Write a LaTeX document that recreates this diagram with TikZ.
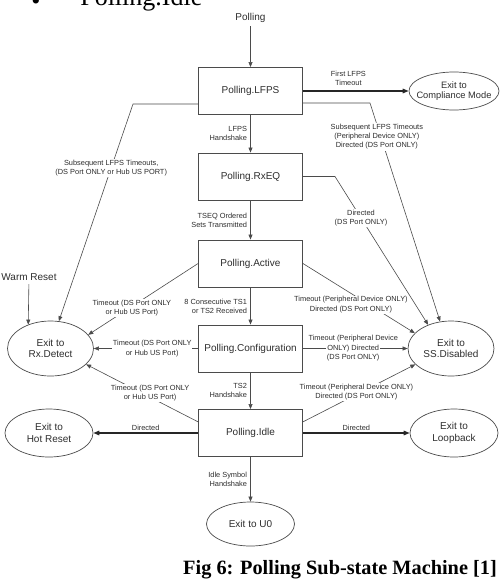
\documentclass[tikz,border=0pt]{standalone}
\usepackage{fontspec}
\setmainfont{Liberation Sans}
\newfontfamily\serifhead{Liberation Serif}
\usetikzlibrary{shapes.geometric,arrows.meta}

\definecolor{edgegray}{RGB}{75,75,75}
\definecolor{inkgray}{RGB}{45,45,45}

\tikzset{every picture/.style={line width=0.6pt}}
\tikzset{
  pollbox/.style={draw=edgegray, line width=0.9pt, minimum width=104pt, minimum height=47pt, inner sep=0pt, text=inkgray, font=\fontsize{10}{12}\selectfont},
  exitbox/.style={ellipse, draw=edgegray, line width=0.7pt, inner xsep=-25pt, inner ysep=-4pt, align=center, text=inkgray, font=\fontsize{10}{11.5}\selectfont},
  lbl/.style={inner sep=1pt, align=center, text=inkgray, font=\fontsize{7.4}{9.2}\selectfont},
  trans/.style={draw=edgegray, line width=0.6pt, -{Triangle[length=5pt,width=4pt]}},
  heavytrans/.style={draw=black!85, line width=1.4pt, -{Triangle[length=6pt,width=4.5pt]}},
}

\begin{document}
\begin{tikzpicture}[x=1pt,y=1pt,yscale=-1]
\useasboundingbox (0,0) rectangle (500,581);

% Text Node (heading line, cut by the page edge)
\node (headdot) [anchor=base west, inner sep=0pt, font=\serifhead\fontsize{26}{30}\selectfont] at (31,9) {•};
\node (headtxt) [anchor=base west, inner sep=0pt, font=\serifhead\fontsize{26}{30}\selectfont] at (80,5.5) {Polling.Idle};

%Shape: Rectangle (sub-states)
\node (lfps)   [pollbox] at (250.5,91)    {Polling.LFPS};
\node (rxeq)   [pollbox] at (250.5,176.5) {Polling.RxEQ};
\node (active) [pollbox] at (250.5,263.5) {Polling.Active};
\node (config) [pollbox] at (250.5,348.5) {Polling.Configuration};
\node (idle)   [pollbox] at (250.5,433)   {Polling.Idle};

%Shape: Ellipse (exits)
\node (compl)  [exitbox, minimum width=90pt, minimum height=38pt, font=\fontsize{9.3}{10.5}\selectfont] at (454,91) {Exit to\\Compliance Mode};
\node (rxdet)  [exitbox, minimum width=86pt, minimum height=55pt] at (50.5,348.5) {Exit to\\Rx.Detect};
\node (ssdis)  [exitbox, minimum width=86pt, minimum height=55pt] at (451,348.5)  {Exit to\\SS.Disabled};
\node (hotrst) [exitbox, minimum width=88pt, minimum height=48pt] at (49,433)     {Exit to\\Hot Reset};
\node (loopbk) [exitbox, minimum width=88pt, minimum height=48pt] at (454,433)    {Exit to\\Loopback};
\node (exitu0) [exitbox, minimum width=88pt, minimum height=44pt] at (250.5,524)  {Exit to U0};

% Text Node
\node (polling) [text=inkgray, font=\fontsize{10}{12}\selectfont] at (250.5,18) {Polling};
\node (warmrst) [text=inkgray, font=\fontsize{10}{12}\selectfont] at (29,277) {Warm Reset};
\node (figcap)  [anchor=base, inner sep=0pt, font=\serifhead\bfseries\fontsize{20.3}{24}\selectfont] at (340,574) {Fig 6: Polling Sub-state Machine [1]};

% bend points
\coordinate (lfpsbendL) at (133,104);
\coordinate (lfpsbendR) at (370,103);
\coordinate (rxeqbend)  at (335,176.5);

%Straight Lines (main sequence)
\draw [trans] (polling) -- (lfps);
\draw [trans] (lfps) -- node (lbllfps) [lbl, left, outer sep=2.5pt, align=right] {LFPS\\Handshake} (rxeq);
\draw [trans] (rxeq) -- node (lblrxeq) [lbl, left, outer sep=2.5pt, align=right] {TSEQ Ordered\\Sets Transmitted} (active);
\draw [trans] (active) -- node (lblact) [lbl, left, outer sep=2.5pt, align=right] {8 Consecutive TS1\\or TS2 Received} (config);
\draw [trans] (config) -- node (lblcfg) [lbl, left, outer sep=2.5pt, align=right] {TS2\\Handshake} (idle);
\draw [trans] (idle) -- node (lblidle) [lbl, left, outer sep=2.5pt, align=right] {Idle Symbol\\Handshake} (exitu0);

%Straight Lines (heavy exits)
\draw [heavytrans] (lfps) -- node (lblfirst) [lbl, above, outer sep=4pt, pos=0.43] {First LFPS\\Timeout} (compl);
\draw [heavytrans] (idle) -- node (lblhot) [lbl, above, outer sep=1.5pt] {Directed} (hotrst);
\draw [heavytrans] (idle) -- node (lblloop) [lbl, above, outer sep=1.5pt] {Directed} (loopbk);

%Straight Lines (to Rx.Detect)
\draw [trans] (warmrst) -- (rxdet.133);
\draw [trans] (lfps.west |- lfpsbendL) -- (lfpsbendL) -- node (lblsubL) [lbl, fill=white, pos=0.294] {Subsequent LFPS Timeouts,\\(DS Port ONLY or Hub US PORT)} (rxdet.73);
\draw [trans] (active.west) -- node (lblactrx) [lbl, fill=white, pos=0.63, xshift=3pt] {Timeout (DS Port ONLY\\or Hub US Port)} (rxdet.20);
\draw [trans] (config) -- node (lblcfgrx) [lbl, fill=white, pos=0.44] {Timeout (DS Port ONLY\\or Hub US Port)} (rxdet);
\draw [trans] (idle.168) -- node (lblidlerx) [lbl, fill=white, pos=0.5, xshift=8pt] {Timeout (DS Port ONLY\\or Hub US Port)} (rxdet.-24);

%Straight Lines (to SS.Disabled)
\draw [trans] (lfps.east |- lfpsbendR) -- (lfpsbendR) -- node (lblsubR) [lbl, fill=white, pos=0.155, xshift=-4pt] {Subsequent LFPS Timeouts\\(Peripheral Device ONLY)\\Directed (DS Port ONLY)} (ssdis.112);
\draw [trans] (rxeq) -- (rxeqbend) -- node (lblrxss) [lbl, fill=white, pos=0.279] {Directed\\(DS Port ONLY)} (ssdis.134);
\draw [trans] (active.east) -- node (lblactss) [lbl, fill=white, pos=0.59, xshift=-18pt] {Timeout (Peripheral Device ONLY)\\Directed (DS Port ONLY)} (ssdis.157);
\draw [trans] (config) -- node (cfgss) [lbl, fill=white, pos=0.48] {ONLY) Directed} (ssdis);
\node (cfgsstop) [lbl, anchor=south] at (cfgss.north) {Timeout (Peripheral Device};
\node (cfgssbot) [lbl, anchor=north] at (cfgss.south) {(DS Port ONLY)};
\draw [trans] (idle.12) -- node (lblidless) [lbl, fill=white, pos=0.52, xshift=-5pt] {Timeout (Peripheral Device ONLY)\\Directed (DS Port ONLY)} (ssdis.204);

\end{tikzpicture}
\end{document}
